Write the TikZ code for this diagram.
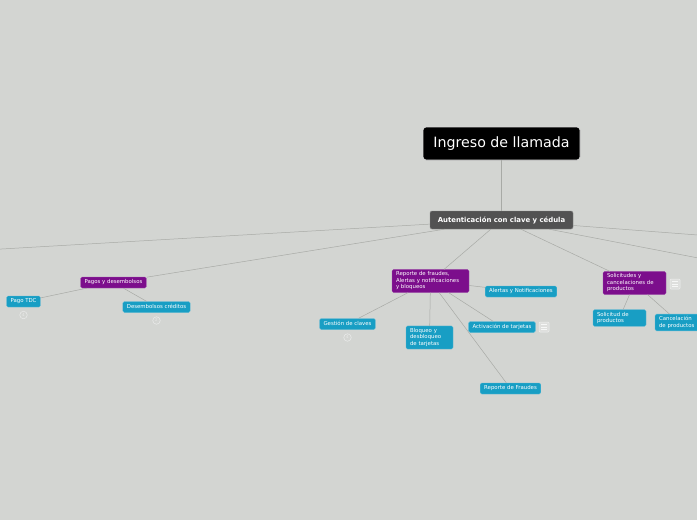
\documentclass[tikz,border=0pt]{standalone}
\usepackage{fontspec}
\setmainfont{DejaVu Sans}
\definecolor{mapbg}{RGB}{211,213,210}
\definecolor{mapline}{RGB}{168,170,166}
\definecolor{authgray}{RGB}{82,82,82}
\definecolor{mmpurple}{RGB}{124,14,140}
\definecolor{mmteal}{RGB}{24,158,196}
\tikzset{
  box/.style={inner xsep=4pt,inner ysep=3pt,rounded corners=1.5pt,text=white,font=\fontsize{5.4}{6.5}\selectfont},
  topic/.style={box,fill=mmpurple,draw=mmpurple!70!white,line width=.3pt},
  leaf/.style={box,fill=mmteal,draw=mmteal!70!white,line width=.3pt},
  line1/.style={text height=3.9pt,text depth=1.1pt},
  wrap/.style={align=left,text width=#1,inner ysep=2.4pt},
  badge/.style={circle,draw=white!55!mapbg,line width=.5pt,inner sep=0pt,minimum size=7.5pt,text=white!50!mapbg,font=\fontsize{4}{4}\selectfont},
  noteicon/.style={rounded corners=1pt,fill=white!25!mapbg,draw=white!60!mapbg,line width=.5pt,minimum size=10pt,inner sep=0pt}
}
\begin{document}
\begin{tikzpicture}[x=1pt,y=-1pt,every edge/.style={draw=mapline,line width=.5pt}]
\fill[mapbg](0,0)rectangle(697,520);
\useasboundingbox(0,0)rectangle(697,520);
\node[draw=white!85!black,line width=.8pt,fill=black,text=white,rounded corners=3pt,minimum width=157pt,minimum height=33pt,font=\fontsize{14.2}{16}\selectfont] at(501.5,143.5)(call){Ingreso de llamada};
\node[fill=authgray,draw=authgray!70!white,line width=.4pt,text=white,rounded corners=2pt,minimum width=143pt,minimum height=18pt,font=\bfseries\fontsize{6.9}{8}\selectfont] at(501.5,220)(auth){Autenticación con clave y cédula};
% branches
\node[topic,line1] at(113.5,282.5)(pay){Pagos y desembolsos};
\node[leaf,line1] at(23.5,301.5)(tdc){Pago TDC};
\node[leaf,line1] at(156.5,307)(cred){Desembolsos créditos};
\node[topic,wrap=69pt] at(430.5,281)(fraud){Reporte de fraudes,\\Alertas y notificaciones\\y bloqueos};
\node[leaf,line1] at(521,291.5)(alert){Alertas y Notificaciones};
\node[leaf,line1] at(347.5,324)(keys){Gestión de claves};
\node[leaf,wrap=39pt] at(429.5,337.5)(block){Bloqueo y\\desbloqueo\\de tarjetas};
\node[leaf,line1] at(502,327)(activ){Activación de tarjetas};
\node[leaf,line1] at(510.5,388.5)(frrep){Reporte de Fraudes};
\node[topic,wrap=55pt] at(634.5,283)(prod){Solicitudes y\\cancelaciones de\\productos};
\node[leaf,wrap=45pt] at(619.5,318)(req){Solicitud de\\productos};
\node[leaf,wrap=40pt] at(679,322.5)(canc){Cancelación\\de productos};
% collapsed counts and notes
\node[badge] at(23.5,315)(tdcn){4};
\node[badge] at(156.5,320.5)(credn){2};
\node[badge] at(347.5,337.5)(keysn){4};
\node[noteicon] at(544,327)(activnote){};
\node[noteicon] at(675,284)(prodnote){};
\foreach \n in {activnote,prodnote}
  \foreach \d in {-2.2,0,2.2}
    \draw[white!80!mapbg,line width=.7pt]([xshift=-3pt,yshift=\d pt]\n.center)--++(6pt,0);
\coordinate(offl) at(-50,252);
\coordinate(offr) at(750,239);
\coordinate(offr2) at(750,268);
\path(call)edge(auth)
     (auth)edge(offl)edge(pay)edge(fraud)edge(prod)edge(offr)edge(offr2)
     (pay)edge(tdc)edge(cred)
     (fraud)edge(alert)edge(keys)edge(block)edge(activ)edge(frrep)
     (prod)edge(req)edge(canc);
\end{tikzpicture}
\end{document}
